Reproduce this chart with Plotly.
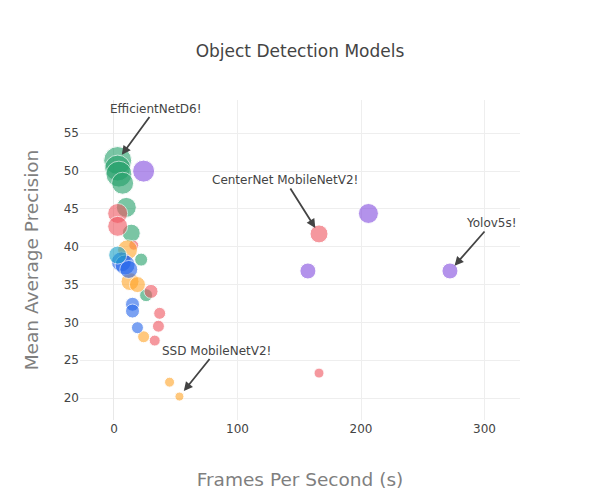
import plotly.graph_objects as go

# ---- data ----
families = ["EfficientDet", "YOLOv5", "CenterNet", "SSD", "Faster R-CNN", "RetinaNet"]

eff_fps = [3, 3, 4, 7, 10, 14, 22, 26]
eff_map = [51.4, 50.4, 49.6, 48.4, 45.2, 41.8, 38.3, 33.6]
eff_size = [28, 26, 26, 22, 20, 18, 13, 13]

yolo_fps = [24, 206, 157, 272]
yolo_map = [50.0, 44.4, 36.8, 36.8]
yolo_size = [22, 20, 16, 16]

cn_fps = [3, 3, 16, 166, 30, 37, 36, 33, 166]
cn_map = [44.4, 42.7, 40.2, 41.7, 34.1, 31.2, 29.5, 27.6, 23.3]
cn_size = [20, 20, 10, 18, 14, 12, 12, 11, 10]

ssd_fps = [11, 13, 19, 24, 45, 53]
ssd_map = [39.6, 35.4, 35.0, 28.1, 22.1, 20.2]
ssd_size = [20, 18, 16, 12, 10, 9]

frcnn_fps = [6, 9, 12, 15, 15, 19]
frcnn_map = [38.0, 37.6, 37.0, 32.4, 31.5, 29.3]
frcnn_size = [20, 20, 18, 14, 14, 12]

ret_fps = [3]
ret_map = [38.9]
ret_size = [18]

series = [
    (eff_fps, eff_map, eff_size, "rgb(34,160,105)"),
    (yolo_fps, yolo_map, yolo_size, "rgb(130,75,222)"),
    (cn_fps, cn_map, cn_size, "rgb(240,85,95)"),
    (ssd_fps, ssd_map, ssd_size, "rgb(255,165,40)"),
    (frcnn_fps, frcnn_map, frcnn_size, "rgb(35,100,235)"),
    (ret_fps, ret_map, ret_size, "rgb(20,160,200)"),
]

fig = go.Figure()
for name, (xs, ys, ss, col) in zip(families, series):
    fig.add_trace(go.Scatter(
        x=xs, y=ys, mode="markers", name=name,
        marker=dict(size=ss, sizemode="diameter", color=col, opacity=0.6,
                    line=dict(color="white", width=1)),
    ))

annots = [
    ("EfficientNetD6!", eff_fps[0], eff_map[0], 38, -52),
    ("CenterNet MobileNetV2!", cn_fps[3], cn_map[3], -34, -54),
    ("Yolov5s!", yolo_fps[3], yolo_map[3], 42, -48),
    ("SSD MobileNetV2!", ssd_fps[5], ssd_map[5], 37, -46),
]
for text, x, y, ax, ay in annots:
    fig.add_annotation(x=x, y=y, text=text, showarrow=True, ax=ax, ay=ay,
                       arrowhead=2, arrowsize=1, arrowwidth=1.8, arrowcolor="#444",
                       standoff=7, font=dict(size=12, color="#444"))

fig.update_layout(
    width=600, height=500,
    template=None,
    paper_bgcolor="white", plot_bgcolor="white",
    showlegend=False,
    font=dict(family="Verdana, DejaVu Sans, sans-serif", color="#444"),
    title=dict(text="Object Detection Models", x=0.5, xanchor="center",
               y=0.91, font=dict(size=17, color="#444")),
    margin=dict(l=80, r=80, t=100, b=80),
    xaxis=dict(title=dict(text="Frames Per Second (s)", font=dict(size=18.5, color="#7f7f7f"), standoff=38),
               range=[-27.5, 328.7], tickvals=[0, 100, 200, 300],
               showgrid=True, gridcolor="#eeeeee", zeroline=True, zerolinecolor="#e8e8e8",
               zerolinewidth=1, showline=False, ticks=""),
    yaxis=dict(title=dict(text="Mean Average Precision", font=dict(size=18.5, color="#7f7f7f"), standoff=20),
               range=[17.1, 59.4], tickvals=[20, 25, 30, 35, 40, 45, 50, 55],
               showgrid=True, gridcolor="#eeeeee", zeroline=False, showline=False, ticks=""),
)

fig.write_html("out.html")
